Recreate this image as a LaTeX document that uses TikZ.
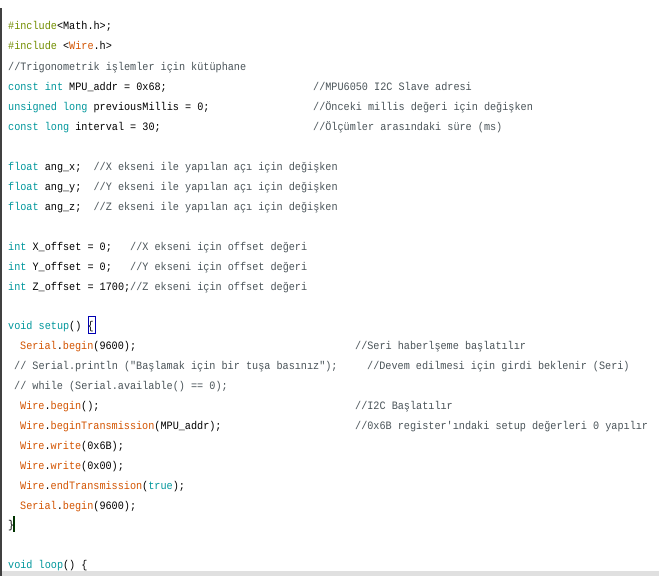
\documentclass[tikz,border=0pt]{standalone}
\usepackage{fontspec}
\setmonofont{Liberation Mono}
\definecolor{kw}{HTML}{00979C}
\definecolor{fn}{HTML}{D35400}
\definecolor{cm}{HTML}{4A5459}
\definecolor{pp}{HTML}{728E00}
\newcommand{\Kw}[1]{\textcolor{kw}{#1}}
\newcommand{\Fn}[1]{\textcolor{fn}{#1}}
\newcommand{\Cm}[1]{\textcolor{cm}{#1}}
\newcommand{\Pp}[1]{\textcolor{pp}{#1}}
\tikzset{code/.style={anchor=base west,inner sep=0pt,font=\ttfamily\fontsize{11.3}{12}\selectfont,xscale=0.9,transform shape,text=black}}
\begin{document}
\begin{tikzpicture}[x=1pt,y=-1pt]
\useasboundingbox (0,0) rectangle (659,576);
\fill[white] (0,0) rectangle (659,576);
\fill[black!12] (0,571) rectangle (659,576);
\fill[black!75] (0,8) rectangle (2,576);
\node[code] (l1) at (8,29) {\Pp{\#include}<Math.h>;};
\node[code] (l2) at (8,49) {\Pp{\#include} <\Fn{Wire}.h>};
\node[code] (l3) at (8,70) {\Cm{//Trigonometrik işlemler için kütüphane}};
\node[code] (l4) at (8,90) {\Kw{const} \Kw{int} MPU\_addr = 0x68;};
\node[code] (c4) at (313,90) {\Cm{//MPU6050 I2C Slave adresi}};
\node[code] (l5) at (8,110) {\Kw{unsigned} \Kw{long} previousMillis = 0;};
\node[code] (c5) at (313,110) {\Cm{//Önceki millis değeri için değişken}};
\node[code] (l6) at (8,130) {\Kw{const} \Kw{long} interval = 30;};
\node[code] (c6) at (313,130) {\Cm{//Ölçümler arasındaki süre (ms)}};
\node[code] (l8) at (8,170) {\Kw{float} ang\_x;\ \ \Cm{//X ekseni ile yapılan açı için değişken}};
\node[code] (l9) at (8,190) {\Kw{float} ang\_y;\ \ \Cm{//Y ekseni ile yapılan açı için değişken}};
\node[code] (l10) at (8,210) {\Kw{float} ang\_z;\ \ \Cm{//Z ekseni ile yapılan açı için değişken}};
\node[code] (l12) at (8,250) {\Kw{int} X\_offset = 0;\ \ \ \Cm{//X ekseni için offset değeri}};
\node[code] (l13) at (8,270) {\Kw{int} Y\_offset = 0;\ \ \ \Cm{//Y ekseni için offset değeri}};
\node[code] (l14) at (8,290) {\Kw{int} Z\_offset = 1700;\Cm{//Z ekseni için offset değeri}};
\node[code] (l16) at (8,329) {\Kw{void} \Kw{setup}() \{};
\draw[blue!70!black,line width=0.6pt] (88,316) rectangle (95,333);
\node[code] (l17) at (20,349) {\Fn{Serial}.\Fn{begin}(9600);};
\node[code] (c17) at (355,349) {\Cm{//Seri haberlşeme başlatılır}};
\node[code] (l18) at (14,369) {\Cm{// Serial.println ("Başlamak için bir tuşa basınız");}};
\node[code] (c18) at (367,369) {\Cm{//Devem edilmesi için girdi beklenir (Seri)}};
\node[code] (l19) at (14,389) {\Cm{// while (Serial.available() == 0);}};
\node[code] (l20) at (20,409) {\Fn{Wire}.\Fn{begin}();};
\node[code] (c20) at (355,409) {\Cm{//I2C Başlatılır}};
\node[code] (l21) at (20,429) {\Fn{Wire}.\Fn{beginTransmission}(MPU\_addr);};
\node[code] (c21) at (355,429) {\Cm{//0x6B register'ındaki setup değerleri 0 yapılır}};
\node[code] (l22) at (20,449) {\Fn{Wire}.\Fn{write}(0x6B);};
\node[code] (l23) at (20,469) {\Fn{Wire}.\Fn{write}(0x00);};
\node[code] (l24) at (20,489) {\Fn{Wire}.\Fn{endTransmission}(\Kw{true});};
\node[code] (l25) at (20,509) {\Fn{Serial}.\Fn{begin}(9600);};
\node[code] (l26) at (8,528) {\}};
\draw[black!80!green,line width=1.2pt] (14,516) -- (14,532);
\node[code] (l28) at (8,568) {\Kw{void} \Kw{loop}() \{};
\end{tikzpicture}
\end{document}
